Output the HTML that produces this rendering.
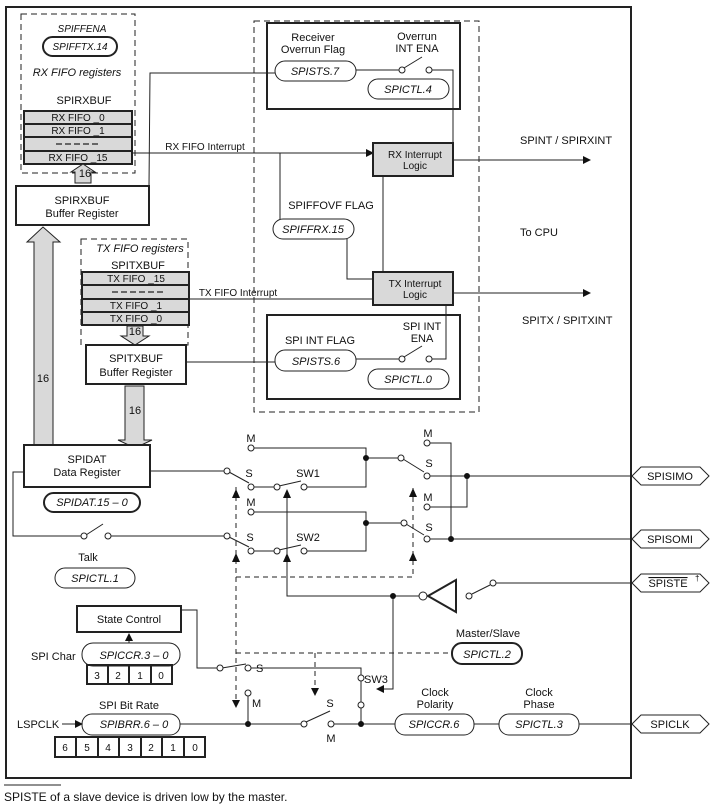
<!DOCTYPE html>
<html><head><meta charset="utf-8"><style>
html,body{margin:0;padding:0;background:#fff;width:717px;height:812px;overflow:hidden}
svg{display:block}
text{font-family:"Liberation Sans",Arial,sans-serif;font-size:11px;fill:#111}
.i{font-style:italic}
.c{text-anchor:middle}
.s{font-size:10px}
</style></head><body>
<svg width="717" height="812" viewBox="0 0 717 812" xmlns="http://www.w3.org/2000/svg">
<defs>
<marker id="ah" markerWidth="8" markerHeight="8" refX="7" refY="4" orient="auto" markerUnits="userSpaceOnUse"><path d="M0,0 L8,4 L0,8 z" fill="#111"/></marker>
</defs>
<g stroke="#222" fill="none" stroke-width="1">
<!-- outer frame -->
<rect x="6" y="7" width="625" height="771" stroke-width="2"/>
<!-- RX FIFO dashed -->
<rect x="21" y="14" width="114" height="159" stroke-dasharray="6,4"/>
<rect x="43" y="37" width="74" height="19" rx="9.5" stroke-width="2"/>
<g fill="#d9d9d9" stroke-width="2">
<rect x="24" y="111" width="108" height="13"/><rect x="24" y="124" width="108" height="13"/><rect x="24" y="137" width="108" height="14"/><rect x="24" y="151" width="108" height="13"/>
</g>
<line x1="56" y1="144" x2="100" y2="144" stroke-dasharray="6,3" stroke-width="1.3"/>
<polygon points="75,183 75,172 71,172 83,164 95,172 91,172 91,183" fill="#d9d9d9"/>
<rect x="16" y="186" width="133" height="39" stroke-width="2" fill="#fff"/>
<polyline points="149,186 150,73 275,73"/>
<line x1="132" y1="153" x2="373" y2="153" marker-end="url(#ah)"/>
<!-- big up arrow -->
<polygon points="34,445 34,242 27,242 43,227 60,242 53,242 53,445" fill="#d9d9d9"/>
<!-- TX FIFO -->
<rect x="81" y="239" width="107" height="106" stroke-dasharray="6,4"/>
<g fill="#d9d9d9" stroke-width="2">
<rect x="82" y="272" width="107" height="13"/><rect x="82" y="285" width="107" height="14"/><rect x="82" y="299" width="107" height="13"/><rect x="82" y="312" width="107" height="13"/>
</g>
<line x1="112" y1="292" x2="166" y2="292" stroke-dasharray="6,3" stroke-width="1.3"/>
<polygon points="127,326 127,336 121,336 135,345 149,336 143,336 143,326" fill="#d9d9d9"/>
<rect x="86" y="345" width="100" height="39" stroke-width="2" fill="#fff"/>
<line x1="186" y1="362" x2="275" y2="362"/>
<line x1="189" y1="299" x2="373" y2="299"/>
<polygon points="125,386 125,440 118,440 135,448 152,440 144,440 144,386" fill="#d9d9d9"/>
<!-- right dashed -->
<rect x="254" y="21" width="225" height="391" stroke-dasharray="6,4"/>
<rect x="267" y="23" width="193" height="86" stroke-width="2"/>
<rect x="275" y="61" width="81" height="20" rx="10"/>
<rect x="368" y="79" width="81" height="20" rx="10"/>
<line x1="356" y1="70" x2="399" y2="70"/>
<line x1="404" y1="68" x2="422" y2="57"/>
<polyline points="432,70 453,70 453,143"/>
<rect x="373" y="143" width="80" height="33" fill="#d9d9d9" stroke-width="2"/>
<polyline points="280,153 280,219"/>
<rect x="273" y="219" width="81" height="20" rx="10"/>
<polyline points="347,239 347,279 373,279"/>
<line x1="383" y1="176" x2="383" y2="272"/>
<rect x="373" y="272" width="80" height="33" fill="#d9d9d9" stroke-width="2"/>
<line x1="453" y1="160" x2="590" y2="160" marker-end="url(#ah)"/>
<line x1="453" y1="293" x2="590" y2="293" marker-end="url(#ah)"/>
<rect x="267" y="315" width="193" height="84" stroke-width="2"/>
<rect x="275" y="350" width="81" height="21" rx="10"/>
<rect x="368" y="369" width="81" height="20" rx="10"/>
<line x1="356" y1="359" x2="399" y2="359"/>
<line x1="404" y1="357" x2="422" y2="346"/>
<polyline points="432,359 446,359 446,305"/>
<!-- SPIDAT -->
<rect x="24" y="445" width="126" height="42" stroke-width="2" fill="#fff"/>
<rect x="44" y="493" width="96" height="19" rx="9.5" stroke-width="2"/>
<line x1="150" y1="471" x2="224" y2="471"/>
<line x1="229" y1="472" x2="249" y2="483"/>
<line x1="254" y1="487" x2="274" y2="487"/>
<line x1="279" y1="486" x2="301" y2="481"/>
<polyline points="307,487 366,487 366,458"/>
<polyline points="254,448 366,448 366,458 398,458"/>
<line x1="403" y1="459" x2="424" y2="472"/>
<polyline points="430,443 451,443 451,539"/>
<line x1="430" y1="476" x2="632" y2="476"/>
<polyline points="467,476 467,507 430,507"/>
<!-- SW2 -->
<polyline points="24,472 13,472 13,536 81,536"/>
<line x1="86" y1="535" x2="103" y2="524"/>
<line x1="111" y1="536" x2="224" y2="536"/>
<line x1="229" y1="537" x2="249" y2="547"/>
<line x1="254" y1="551" x2="274" y2="551"/>
<line x1="279" y1="550" x2="301" y2="545"/>
<polyline points="307,551 366,551 366,523"/>
<polyline points="254,512 366,512 366,523 401,523"/>
<line x1="406" y1="524" x2="424" y2="535"/>
<line x1="430" y1="539" x2="632" y2="539"/>
<rect x="55" y="568" width="80" height="20" rx="10"/>
<!-- dashed control -->
<polyline points="236,487 236,700" stroke-dasharray="5,4"/>
<polyline points="236,577 413,577 413,487" stroke-dasharray="5,4"/>
<polyline points="236,653 452,653" stroke-dasharray="5,4"/>
<polyline points="315,653 315,688" stroke-dasharray="5,4"/>
<!-- SW control solid -->
<polyline points="287,490 287,596 420,596"/>
<polyline points="393,596 393,689 378,689"/>
<polygon points="428,596 456,580 456,612" stroke-width="2" fill="#fff"/>
<line x1="472" y1="594" x2="490" y2="585"/>
<line x1="496" y1="583" x2="632" y2="583"/>
<rect x="452" y="643" width="70" height="21" rx="10" stroke-width="2"/>
<!-- state control -->
<rect x="77" y="606" width="104" height="26" stroke-width="2"/>
<polyline points="181,610 197,610 197,668 217,668"/>
<line x1="222" y1="668" x2="246" y2="664"/>
<polyline points="251,668 361,668 361,675"/>
<line x1="361" y1="681" x2="361" y2="702"/>
<line x1="361" y1="708" x2="361" y2="724"/>
<rect x="82" y="643" width="98" height="23" rx="11"/>
<line x1="129" y1="643" x2="129" y2="634" marker-end="url(#ah)"/>
<rect x="87" y="665" width="85" height="19" stroke-width="2"/>
<line x1="108" y1="665" x2="108" y2="684" stroke-width="2"/><line x1="129" y1="665" x2="129" y2="684" stroke-width="2"/><line x1="151" y1="665" x2="151" y2="684" stroke-width="2"/>
<!-- SPICLK line -->
<line x1="62" y1="724" x2="82" y2="724" marker-end="url(#ah)"/>
<rect x="82" y="714" width="98" height="21" rx="10"/>
<line x1="180" y1="724" x2="301" y2="724"/>
<line x1="248" y1="724" x2="248" y2="696"/>
<line x1="306" y1="722" x2="330" y2="711"/>
<line x1="334" y1="724" x2="395" y2="724"/>
<rect x="395" y="714" width="79" height="21" rx="10"/>
<line x1="474" y1="724" x2="499" y2="724"/>
<rect x="499" y="714" width="80" height="21" rx="10"/>
<line x1="579" y1="724" x2="632" y2="724"/>
<rect x="55" y="737" width="150" height="20" stroke-width="2"/>
<line x1="76" y1="737" x2="76" y2="757" stroke-width="2"/><line x1="98" y1="737" x2="98" y2="757" stroke-width="2"/><line x1="119" y1="737" x2="119" y2="757" stroke-width="2"/><line x1="141" y1="737" x2="141" y2="757" stroke-width="2"/><line x1="162" y1="737" x2="162" y2="757" stroke-width="2"/><line x1="184" y1="737" x2="184" y2="757" stroke-width="2"/>
<!-- connectors -->
<polygon points="632,476 641,467 700,467 709,476 700,485 641,485"/>
<polygon points="632,539 641,530 700,530 709,539 700,548 641,548"/>
<polygon points="632,583 641,574 700,574 709,583 700,592 641,592"/>
<polygon points="632,724 641,715 700,715 709,724 700,733 641,733"/>
<line x1="4" y1="785" x2="61" y2="785"/>
</g>
<!-- switch circles -->
<g fill="#fff" stroke="#222" stroke-width="1">
<circle cx="402" cy="70" r="3"/><circle cx="429" cy="70" r="3"/>
<circle cx="402" cy="359" r="3"/><circle cx="429" cy="359" r="3"/>
<circle cx="227" cy="471" r="3"/><circle cx="251" cy="487" r="3"/><circle cx="277" cy="487" r="3"/><circle cx="304" cy="487" r="3"/>
<circle cx="251" cy="448" r="3"/><circle cx="401" cy="458" r="3"/><circle cx="427" cy="443" r="3"/><circle cx="427" cy="476" r="3"/><circle cx="427" cy="507" r="3"/>
<circle cx="84" cy="536" r="3"/><circle cx="108" cy="536" r="3"/>
<circle cx="227" cy="536" r="3"/><circle cx="251" cy="551" r="3"/><circle cx="277" cy="551" r="3"/><circle cx="304" cy="551" r="3"/>
<circle cx="251" cy="512" r="3"/><circle cx="404" cy="523" r="3"/><circle cx="427" cy="539" r="3"/>
<circle cx="423" cy="596" r="4"/><circle cx="469" cy="596" r="3"/><circle cx="493" cy="583" r="3"/>
<circle cx="220" cy="668" r="3"/><circle cx="248" cy="668" r="3"/><circle cx="361" cy="678" r="3"/><circle cx="361" cy="705" r="3"/>
<circle cx="248" cy="693" r="3"/><circle cx="304" cy="724" r="3"/><circle cx="331" cy="724" r="3"/>
</g>
<g fill="#111">
<circle cx="366" cy="458" r="3"/><circle cx="467" cy="476" r="3"/><circle cx="366" cy="523" r="3"/><circle cx="451" cy="539" r="3"/>
<circle cx="393" cy="596" r="3"/><circle cx="248" cy="724" r="3"/><circle cx="361" cy="724" r="3"/>
<!-- arrowheads -->
<path d="M232,498 L236,489 L240,498z"/><path d="M232,562 L236,553 L240,562z"/>
<path d="M409,497 L413,488 L417,497z"/><path d="M409,561 L413,552 L417,561z"/>
<path d="M283,498 L287,489 L291,498z"/><path d="M283,562 L287,553 L291,562z"/>
<path d="M232,700 L236,708 L240,700z"/><path d="M311,688 L315,696 L319,688z"/>
<path d="M376,689 L384,685 L384,693z"/>
</g>
<!-- text -->
<text x="82" y="32" class="c i s">SPIFFENA</text>
<text x="80" y="50" class="c i s">SPIFFTX.14</text>
<text x="77" y="76" class="c i">RX FIFO registers</text>
<text x="84" y="104" class="c">SPIRXBUF</text>
<text x="78" y="121" class="c s">RX FIFO _0</text>
<text x="78" y="134" class="c s">RX FIFO _1</text>
<text x="78" y="161" class="c s">RX FIFO _15</text>
<text x="85" y="177" class="c">16</text>
<text x="82" y="204" class="c">SPIRXBUF</text>
<text x="82" y="217" class="c">Buffer Register</text>
<text x="205" y="150" class="c s">RX FIFO Interrupt</text>
<text x="43" y="382" class="c">16</text>
<text x="140" y="252" class="c i">TX FIFO registers</text>
<text x="138" y="269" class="c">SPITXBUF</text>
<text x="136" y="282" class="c s">TX FIFO _15</text>
<text x="136" y="309" class="c s">TX FIFO _1</text>
<text x="136" y="322" class="c s">TX FIFO _0</text>
<text x="135" y="335" class="c">16</text>
<text x="136" y="362" class="c">SPITXBUF</text>
<text x="136" y="376" class="c">Buffer Register</text>
<text x="238" y="296" class="c s">TX FIFO Interrupt</text>
<text x="135" y="414" class="c">16</text>
<text x="313" y="41" class="c">Receiver</text>
<text x="313" y="53" class="c">Overrun Flag</text>
<text x="417" y="40" class="c">Overrun</text>
<text x="417" y="52" class="c">INT ENA</text>
<text x="315" y="75" class="c i">SPISTS.7</text>
<text x="408" y="93" class="c i">SPICTL.4</text>
<text x="415" y="158" class="c s">RX Interrupt</text>
<text x="415" y="169" class="c s">Logic</text>
<text x="331" y="209" class="c">SPIFFOVF FLAG</text>
<text x="313" y="233" class="c i">SPIFFRX.15</text>
<text x="415" y="287" class="c s">TX Interrupt</text>
<text x="415" y="298" class="c s">Logic</text>
<text x="520" y="144">SPINT / SPIRXINT</text>
<text x="520" y="236">To CPU</text>
<text x="522" y="324">SPITX / SPITXINT</text>
<text x="320" y="344" class="c">SPI INT FLAG</text>
<text x="422" y="330" class="c">SPI INT</text>
<text x="422" y="342" class="c">ENA</text>
<text x="316" y="365" class="c i">SPISTS.6</text>
<text x="408" y="383" class="c i">SPICTL.0</text>
<text x="87" y="463" class="c">SPIDAT</text>
<text x="87" y="476" class="c">Data Register</text>
<text x="92" y="506" class="c i">SPIDAT.15 – 0</text>
<text x="88" y="561" class="c">Talk</text>
<text x="95" y="582" class="c i">SPICTL.1</text>
<text x="251" y="442" class="c">M</text><text x="249" y="477" class="c">S</text><text x="308" y="477" class="c">SW1</text>
<text x="251" y="506" class="c">M</text><text x="250" y="541" class="c">S</text><text x="308" y="541" class="c">SW2</text>
<text x="428" y="437" class="c">M</text><text x="429" y="467" class="c">S</text>
<text x="428" y="501" class="c">M</text><text x="429" y="531" class="c">S</text>
<text x="670" y="480" class="c">SPISIMO</text>
<text x="670" y="543" class="c">SPISOMI</text>
<text x="668" y="587" class="c" style="text-decoration:overline">SPISTE</text><text x="695" y="581" style="font-size:8px">†</text>
<text x="670" y="728" class="c">SPICLK</text>
<text x="488" y="637" class="c">Master/Slave</text>
<text x="487" y="658" class="c i">SPICTL.2</text>
<text x="129" y="623" class="c">State Control</text>
<text x="31" y="660">SPI Char</text>
<text x="134" y="659" class="c i">SPICCR.3 – 0</text>
<text x="97" y="679" class="c s">3</text><text x="118" y="679" class="c s">2</text><text x="140" y="679" class="c s">1</text><text x="161" y="679" class="c s">0</text>
<text x="256" y="672">S</text><text x="364" y="683">SW3</text>
<text x="129" y="709" class="c">SPI Bit Rate</text>
<text x="17" y="728">LSPCLK</text>
<text x="134" y="728" class="c i">SPIBRR.6 – 0</text>
<text x="65" y="751" class="c s">6</text><text x="87" y="751" class="c s">5</text><text x="108" y="751" class="c s">4</text><text x="130" y="751" class="c s">3</text><text x="151" y="751" class="c s">2</text><text x="173" y="751" class="c s">1</text><text x="195" y="751" class="c s">0</text>
<text x="252" y="707">M</text><text x="330" y="707" class="c">S</text><text x="331" y="742" class="c">M</text>
<text x="435" y="696" class="c">Clock</text><text x="435" y="708" class="c">Polarity</text>
<text x="539" y="696" class="c">Clock</text><text x="539" y="708" class="c">Phase</text>
<text x="434" y="728" class="c i">SPICCR.6</text>
<text x="539" y="728" class="c i">SPICTL.3</text>
<text x="4" y="801" style="font-size:12px">SPISTE of a slave device is driven low by the master.</text>
</g>
</svg>
</body></html>
